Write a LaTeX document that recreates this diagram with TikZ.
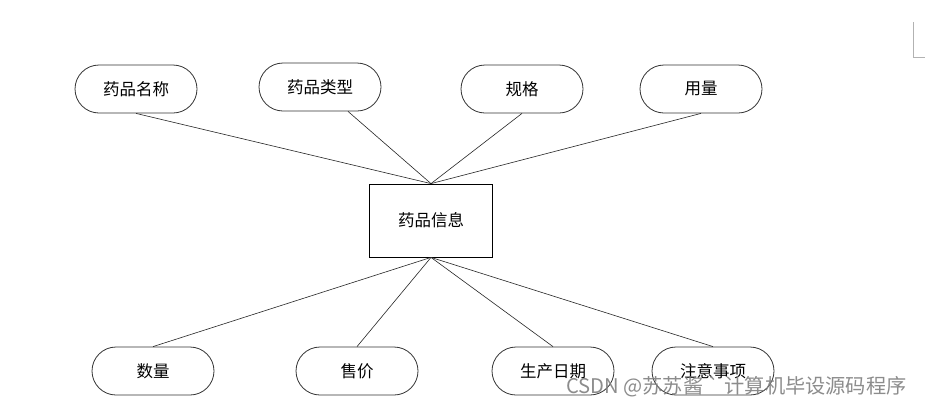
\documentclass[tikz,border=0pt]{standalone}
\usepackage{fontspec}
\newfontfamily\cjk{Noto Sans CJK SC}
\begin{document}
\begin{tikzpicture}[x=1pt,y=-1pt,
  attr/.style={draw=black!80, line width=0.8pt, rounded corners=24pt, minimum width=122pt, minimum height=48pt, inner sep=0pt, font=\cjk\fontsize{16.5}{18}\selectfont},
  ent/.style={draw=black, line width=0.8pt, minimum width=123pt, minimum height=73pt, inner sep=0pt, font=\cjk\fontsize{16.5}{18}\selectfont},
  conn/.style={draw=black!85, line width=0.6pt}]
\useasboundingbox[fill=white] (0,0) rectangle (925,405);
\node[ent] (e) at (431,220.5) {药品信息};
\node[attr] (a1) at (136,89) {药品名称};
\node[attr] (a2) at (320,87) {药品类型};
\node[attr] (a3) at (522,89) {规格};
\node[attr] (a4) at (701,89) {用量};
\node[attr] (b1) at (153,371) {数量};
\node[attr] (b2) at (357,371) {售价};
\node[attr] (b3) at (553,371) {生产日期};
\node[attr] (b4) at (713,371) {注意事项};
\draw[conn] (a1.south) -- (e.north);
\draw[conn] ([xshift=28pt]a2.south) -- (e.north);
\draw[conn] (a3.south) -- (e.north);
\draw[conn] (a4.south) -- (e.north);
\draw[conn] (b1.north) -- (e.south);
\draw[conn] (b2.north) -- (e.south);
\draw[conn] (b3.north) -- (e.south);
\draw[conn] (b4.north) -- (e.south);
\coordinate (m1) at (913,22);
\coordinate (m2) at (913,57);
\coordinate (m3) at (925,57);
\draw[black!30, line width=0.6pt] (m1) -- (m2) -- (m3);
\node[anchor=west, inner sep=0pt, text=black!50, opacity=0.9, font=\cjk\fontsize{20.2}{22}\selectfont] (wm) at (566,386) {CSDN @苏苏酱 ` 计算机毕设源码程序};
\end{tikzpicture}
\end{document}
